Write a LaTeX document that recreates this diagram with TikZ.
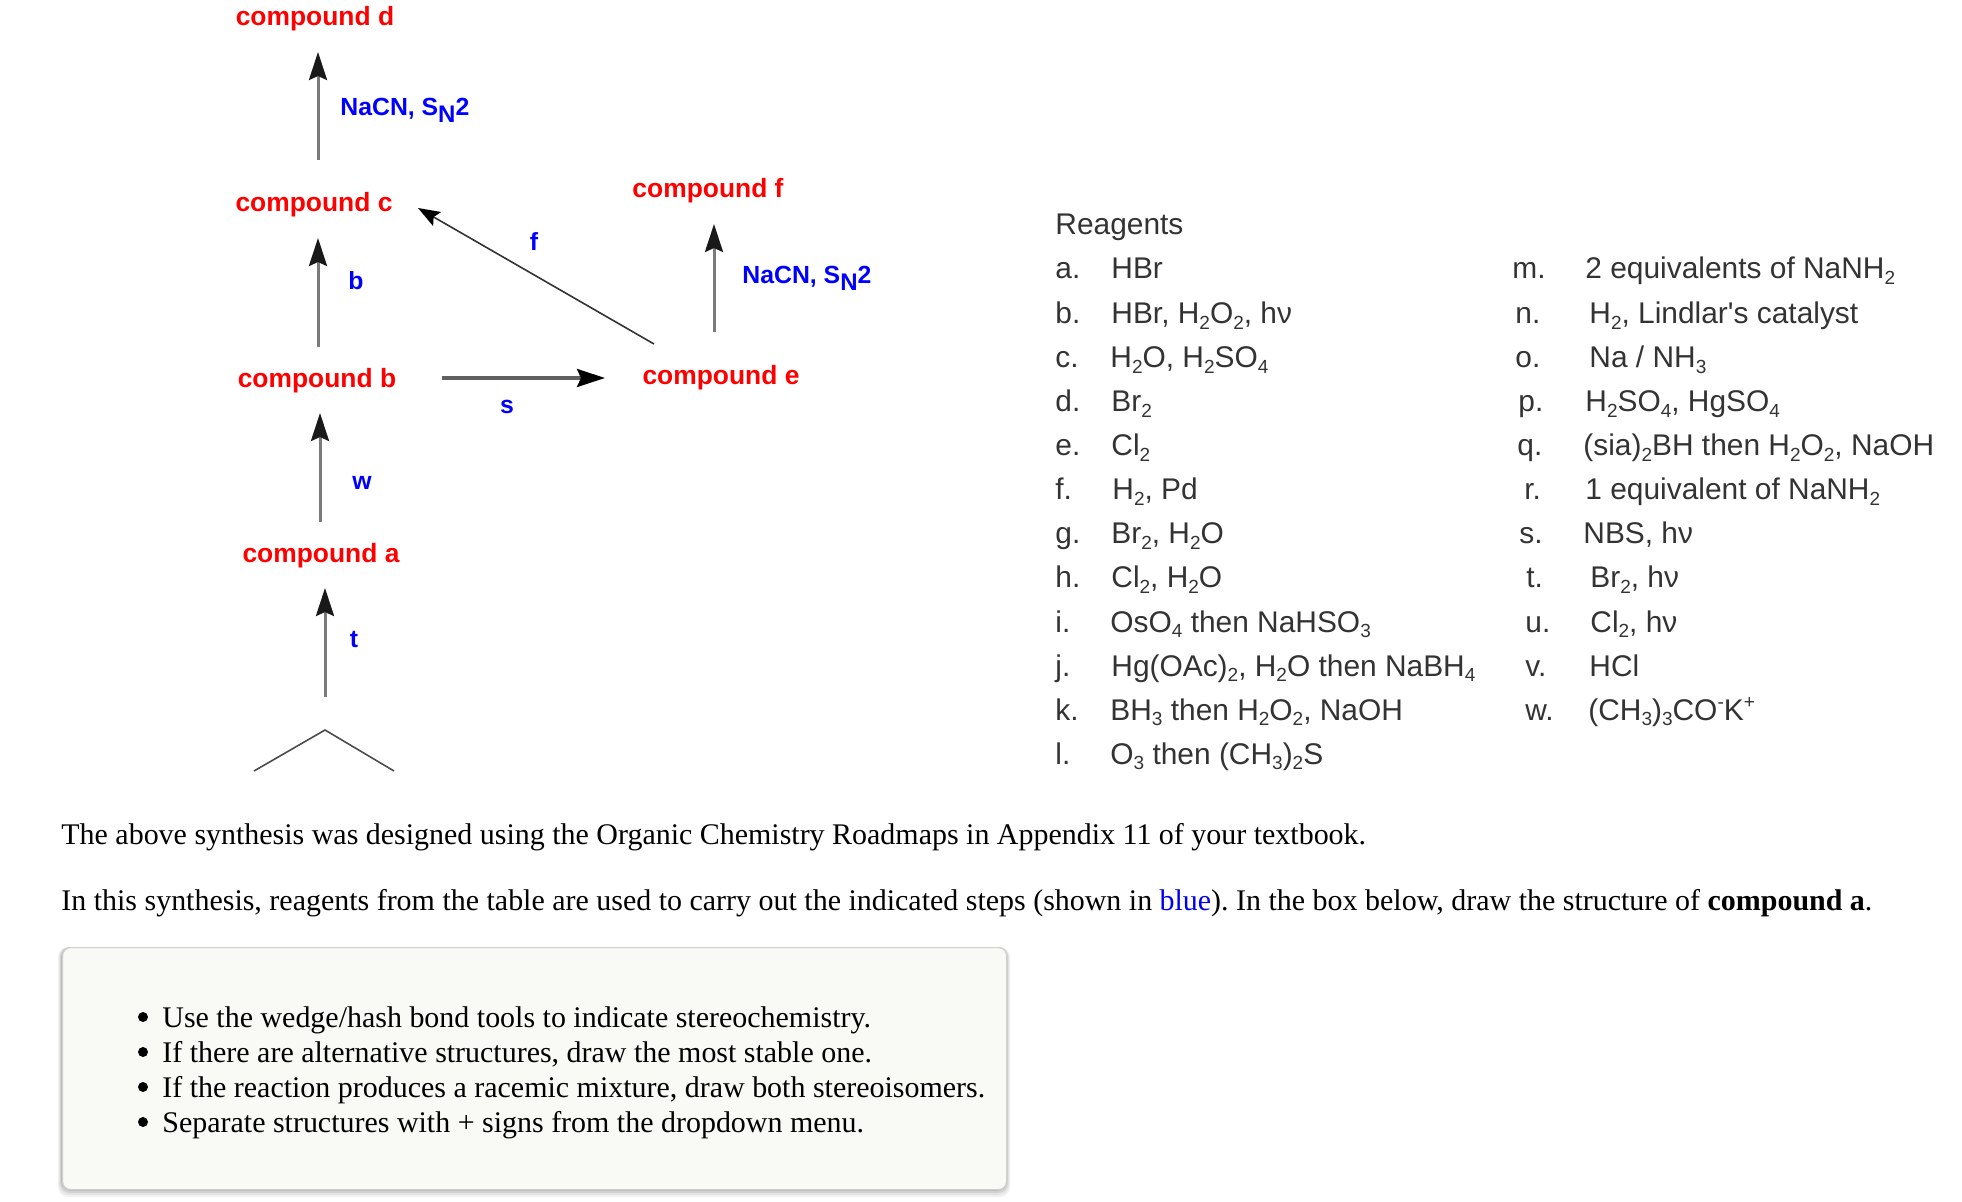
\documentclass[tikz,border=0pt]{standalone}
\usepackage{fontspec}
\setmainfont{Liberation Serif}
\newfontfamily\arialf{Liberation Sans}
\usetikzlibrary{arrows.meta,calc}
\frenchspacing
\definecolor{boxfill}{HTML}{F9F9F5}
\definecolor{boxedge}{HTML}{CFCFCB}
\definecolor{reag}{HTML}{333333}
\definecolor{webblue}{HTML}{0000EE}
\newcommand{\lo}[1]{\raisebox{-0.32ex}{\fontsize{9.5pt}{9.5pt}\selectfont #1}}
\newcommand{\hi}[1]{\raisebox{0.7ex}{\fontsize{9.5pt}{9.5pt}\selectfont #1}}
\newcommand{\blo}[1]{\raisebox{-0.55ex}{\fontsize{12pt}{12pt}\selectfont #1}}
\tikzset{
  x=0.5pt,y=-0.5pt,
  cmpd/.style={text=red,font=\arialf\bfseries\fontsize{13.2pt}{15pt}\selectfont,inner sep=0pt},
  stp/.style={text=blue,font=\arialf\bfseries\fontsize{12.4pt}{14pt}\selectfont,inner sep=0pt},
  stpw/.style={stp,anchor=west},
  rg/.style={text=reag,font=\arialf\fontsize{14.95pt}{17pt}\selectfont,inner sep=0pt,anchor=base west},
  para/.style={text=black,font=\fontsize{14.98pt}{18pt}\selectfont,inner sep=0pt,anchor=base west},
  bul/.style={circle,fill=black,inner sep=0pt,minimum size=5pt},
  thick arrow/.style={draw=black!52,line width=1.5pt,-{Stealth[length=14pt,width=9pt,inset=2pt,color=black!90]}},
  thin arrow/.style={draw=black!80,line width=0.8pt,-{Stealth[length=11pt,width=8pt,inset=2pt,color=black]}},
  side arrow/.style={draw=black!62,line width=1.6pt,-{Stealth[length=14pt,width=9pt,inset=2pt,color=black]}},
  chain/.style={draw=black!70,line width=0.8pt},
}
\begin{document}
\begin{tikzpicture}
\useasboundingbox (0,0) rectangle (1962,1202);
% compounds
\node[cmpd] (cd) at (315,19) {compound d};
\node[cmpd] (cc) at (314,205) {compound c};
\node[cmpd] (cf) at (708,191) {compound f};
\node[cmpd] (cb) at (317,381) {compound b};
\node[cmpd] (ce) at (721,378) {compound e};
\node[cmpd] (ca) at (321,556) {compound a};
\coordinate (chL) at (254,771);
\coordinate (chT) at (325,730);
\coordinate (chR) at (394,771);
% arrows
\draw[thick arrow] ($(cc)+(4,-45)$) -- ($(cd)+(3,33)$);
\draw[thick arrow] ($(cb)+(1,-34)$) -- ($(cc)+(4,33)$);
\draw[thick arrow] ($(ce)+(-7,-46)$) -- ($(cf)+(6,33)$);
\draw[thick arrow] ($(ca)+(-1,-34)$) -- ($(cb)+(3,32)$);
\draw[thick arrow] (chT)+(0,-33) -- ($(ca)+(4,32)$);
\draw[thin arrow] ($(ce)+(-67,-34)$) -- ($(cc)+(104,3)$);
\draw[side arrow] ($(cb)+(125,-3)$) -- ($(ce)+(-116,0)$);
\draw[chain] (chL) -- (chT) -- (chR);
% step labels
\node[stpw] (l1) at (340,110) {NaCN, S\blo{N}2};
\node[stpw] (l2) at (742,278) {NaCN, S\blo{N}2};
\node[stp] (lb) at (356,281) {b};
\node[stp] (lf) at (534,242) {f};
\node[stp] (ls) at (507,407) {s};
\node[stp] (lw) at (362,483) {w};
\node[stp] (lt) at (354,640) {t};
% reagents
\node[rg] (rh) at (1055,235) {Reagents};
\node[rg] (a1) at (1055,279) {a.};   \node[rg] (a2) at (1111,279) {HBr};
\node[rg] (b1) at (1055,324) {b.};   \node[rg] (b2) at (1111,324) {HBr, H\lo{2}O\lo{2}, hν};
\node[rg] (c1) at (1055,368) {c.};   \node[rg] (c2) at (1110,368) {H\lo{2}O, H\lo{2}SO\lo{4}};
\node[rg] (d1) at (1055,412) {d.};   \node[rg] (d2) at (1111,412) {Br\lo{2}};
\node[rg] (e1) at (1055,456) {e.};   \node[rg] (e2) at (1111,456) {Cl\lo{2}};
\node[rg] (f1) at (1055,500) {f.};   \node[rg] (f2) at (1112,500) {H\lo{2}, Pd};
\node[rg] (g1) at (1055,544) {g.};   \node[rg] (g2) at (1111,544) {Br\lo{2}, H\lo{2}O};
\node[rg] (h1) at (1055,588) {h.};   \node[rg] (h2) at (1111,588) {Cl\lo{2}, H\lo{2}O};
\node[rg] (i1) at (1055,632) {i.};   \node[rg] (i2) at (1110,632) {OsO\lo{4} then NaHSO\lo{3}};
\node[rg] (j1) at (1055,676) {j.};   \node[rg] (j2) at (1111,676) {Hg(OAc)\lo{2}, H\lo{2}O then NaBH\lo{4}};
\node[rg] (k1) at (1055,720) {k.};   \node[rg] (k2) at (1110,720) {BH\lo{3} then H\lo{2}O\lo{2}, NaOH};
\node[rg] (m1) at (1055,764) {l.};   \node[rg] (m2) at (1110,764) {O\lo{3} then (CH\lo{3})\lo{2}S};
\node[rg] (n1) at (1512,279) {m.};   \node[rg] (n2) at (1585,279) {2 equivalents of NaNH\lo{2}};
\node[rg] (o1) at (1515,324) {n.};   \node[rg] (o2) at (1589,324) {H\lo{2}, Lindlar's catalyst};
\node[rg] (p1) at (1515,368) {o.};   \node[rg] (p2) at (1589,368) {Na / NH\lo{3}};
\node[rg] (q1) at (1518,412) {p.};   \node[rg] (q2) at (1585,412) {H\lo{2}SO\lo{4}, HgSO\lo{4}};
\node[rg] (r1) at (1517,456) {q.};   \node[rg] (r2) at (1583,456) {(sia)\lo{2}BH then H\lo{2}O\lo{2}, NaOH};
\node[rg] (s1) at (1524,500) {r.};   \node[rg] (s2) at (1585,500) {1 equivalent of NaNH\lo{2}};
\node[rg] (t1) at (1519,544) {s.};   \node[rg] (t2) at (1583,544) {NBS, hν};
\node[rg] (u1) at (1526,588) {t.};   \node[rg] (u2) at (1590,588) {Br\lo{2}, hν};
\node[rg] (v1) at (1525,632) {u.};   \node[rg] (v2) at (1590,632) {Cl\lo{2}, hν};
\node[rg] (w1) at (1525,676) {v.};   \node[rg] (w2) at (1589,676) {HCl};
\node[rg] (x1) at (1525,720) {w.};   \node[rg] (x2) at (1588,720) {(CH\lo{3})\lo{3}CO\hi{-}K\hi{+}};
% paragraphs
\node[para] (p01) at (61,844) {The above synthesis was designed using the Organic Chemistry Roadmaps in Appendix 11 of your textbook.};
\node[para] (p02) at (61,910) {In this synthesis, reagents from the table are used to carry out the indicated steps (shown in \textcolor{webblue}{blue}). In the box below, draw the structure of \textbf{compound a}.};
% box
\foreach \d/\o in {8/0.05,6/0.06,4/0.08,2/0.10}
  \fill[black,opacity=\o,rounded corners=5pt] (62-\d/2,947) rectangle (1006+\d/2,1189+\d);
\node[draw=boxedge,fill=boxfill,line width=0.6pt,rounded corners=4pt,minimum width=472pt,minimum height=121pt,inner sep=0pt,anchor=north west] (bx) at (62,947) {};
\node[bul] (u1b) at (143,1017) {};
\node[bul] (u2b) at (143,1052) {};
\node[bul] (u3b) at (143,1087) {};
\node[bul] (u4b) at (143,1122) {};
\node[para] (u1t) at (162,1027) {Use the wedge/hash bond tools to indicate stereochemistry.};
\node[para] (u2t) at (162,1062) {If there are alternative structures, draw the most stable one.};
\node[para] (u3t) at (162,1097) {If the reaction produces a racemic mixture, draw both stereoisomers.};
\node[para] (u4t) at (162,1132) {Separate structures with + signs from the dropdown menu.};
\end{tikzpicture}
\end{document}
